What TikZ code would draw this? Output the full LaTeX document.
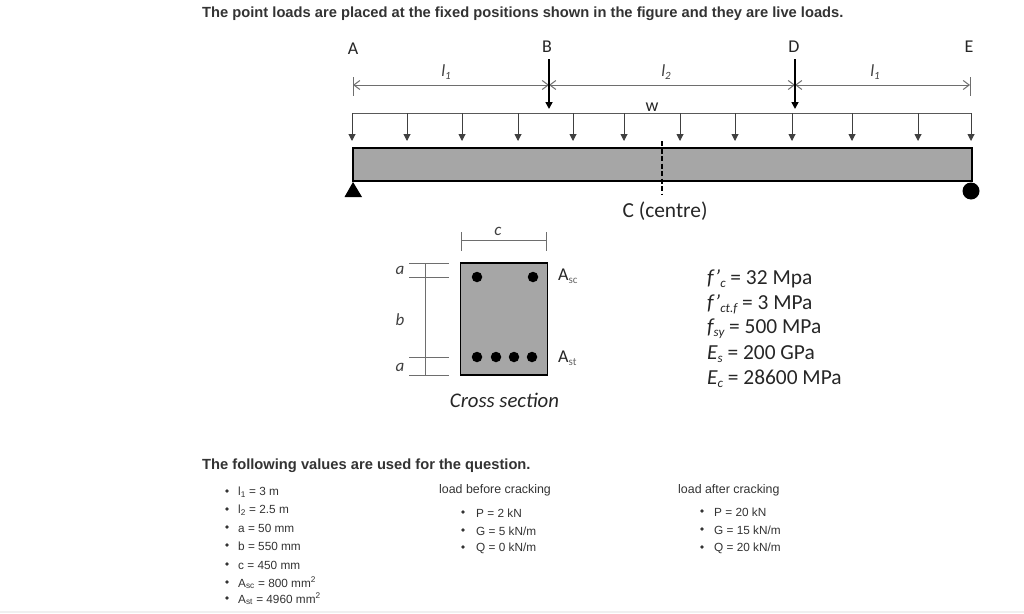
\documentclass[tikz,border=0pt]{standalone}
\usepackage{fontspec}
\setmainfont{Liberation Sans}
\newfontfamily\carl{Carlito}
\usetikzlibrary{arrows.meta}
\newcommand{\lowsub}[2][3]{\raisebox{-#1pt}{\fontsize{13}{13}\selectfont #2}}
\newcommand{\tinysub}[1]{\raisebox{-2.5pt}{\fontsize{11}{11}\selectfont #1}}
\definecolor{beamgray}{HTML}{A6A6A6}
\definecolor{webtext}{HTML}{333333}
\definecolor{dimgray}{HTML}{6E6E6E}
\tikzset{
  x=1pt,y=-1pt,
  heading/.style={anchor=west,inner sep=0pt,yshift=-1pt,font=\fontsize{14.7}{16}\selectfont\bfseries,text=webtext},
  listtext/.style={anchor=west,inner sep=0pt,yshift=-1pt,font=\fontsize{11.8}{13}\selectfont,text=webtext},
  listhead/.style={anchor=west,inner sep=0pt,yshift=-1pt,font=\fontsize{12.4}{14}\selectfont,text=webtext},
  bulletdot/.style={circle,fill=webtext,inner sep=0pt,minimum size=3.6pt},
  cal/.style={inner sep=0pt,yshift=-0.5pt,font=\carl\fontsize{18}{20}\selectfont,text=black!85},
  calit/.style={inner sep=0pt,font=\carl\itshape\fontsize{17}{19}\selectfont,text=black!75},
  prop/.style={anchor=west,inner sep=0pt,yshift=-1pt,font=\carl\fontsize{21.4}{24}\selectfont,text=black!85},
  dimline/.style={draw=dimgray,line width=1pt},
  dimarrow/.style={draw=dimgray,line width=1pt,{Straight Barb[length=6pt,width=9pt]}-{Straight Barb[length=6pt,width=9pt]}},
  loadarrow/.style={draw=black!75,line width=1pt,-{Triangle[length=7pt,width=7pt]}},
  pointload/.style={draw=black,line width=1.6pt,-{Triangle[length=7pt,width=7pt]}},
  solidgray/.style={draw=black,fill=beamgray,line width=1.6pt,inner sep=0pt},
  bar/.style={circle,fill=black,inner sep=0pt,minimum size=10.5pt},
}
\begin{document}
\begin{tikzpicture}
\useasboundingbox[fill=white] (0,0) rectangle (1024,613);
\fill[black!6] (0,611) rectangle (1024,613);

\node[heading] (title) at (202,12.5) {The point loads are placed at the fixed positions shown in the figure and they are live loads.};

% station labels
\node[cal] (lA) at (353,48) {A};
\node[cal] (lB) at (547,46) {B};
\node[cal] (lD) at (794,46) {D};
\node[cal] (lE) at (969,46) {E};

% beam
\node[solidgray,minimum width=619pt,minimum height=33pt] (beam) at (662.5,164.5) {};

% dimension line
\coordinate (dA) at (353,85); \coordinate (dAt) at (353,77); \coordinate (dAb) at (353,96);
\coordinate (dB) at (549,85); \coordinate (dD) at (795,85);
\coordinate (dE) at (970,85); \coordinate (dEt) at (970,77); \coordinate (dEb) at (970,96);
\draw[dimline] (dAt) -- (dAb);
\draw[dimline] (dEt) -- (dEb);
\draw[dimarrow] (dA) -- (dB);
\draw[dimarrow] (dB) -- (dD);
\draw[dimarrow] (dD) -- (dE);
\node[calit] (l1a) at (446,72) {l\tinysub{1}};
\node[calit] (l2) at (666,72) {l\tinysub{2}};
\node[calit] (l1b) at (875,72) {l\tinysub{1}};

% point loads
\coordinate (pBs) at (549,59); \coordinate (pBe) at (549,109);
\coordinate (pDs) at (795,59); \coordinate (pDe) at (795,109);
\draw[pointload] (pBs) -- (pBe);
\draw[pointload] (pDs) -- (pDe);

% UDL
\coordinate (wL) at (353,113); \coordinate (wR) at (971,113);
\draw[draw=black!65,line width=1pt] (wL) -- (wR);
\foreach \i/\xx in {1/352,2/407,3/462,4/518,5/573,6/624,7/680,8/735,9/792,10/852,11/918,12/971}{
  \coordinate (ws\i) at (\xx,113);
  \coordinate (we\i) at (\xx,141);
  \draw[loadarrow] (ws\i) -- (we\i);
}
\node[cal] (w) at (652,107) {w};

% centre mark
\coordinate (cT) at (662,141); \coordinate (cB) at (662,194);
\draw[draw=black,line width=1.6pt,dash pattern=on 5pt off 2.5pt] (cT) -- (cB);
\node[cal,font=\carl\fontsize{21.4}{24}\selectfont] (C) at (665,211) {C (centre)};

% supports
\fill[black] (353,182) -- (362,197) -- (344.5,197) -- cycle;
\node[circle,fill=black,inner sep=0pt,minimum size=17pt] (roller) at (971,191) {};

% cross section
\node[solidgray,minimum width=87pt,minimum height=112pt] (sec) at (504,319) {};
\node[bar] (b1) at (477,277) {};
\node[bar] (b2) at (533,277) {};
\node[bar] (b3) at (477,357) {};
\node[bar] (b4) at (496,357) {};
\node[bar] (b5) at (514,357) {};
\node[bar] (b6) at (532,357) {};
\coordinate (cL) at (461,240); \coordinate (cR) at (546,240);
\coordinate (cLt) at (461,232); \coordinate (cLb) at (461,251);
\coordinate (cRt) at (546,232); \coordinate (cRb) at (546,251);
\draw[dimline] (cL) -- (cR);
\draw[dimline] (cLt) -- (cLb);
\draw[dimline] (cRt) -- (cRb);
\node[calit] (lc) at (498,231) {c};
\foreach \n/\yy in {1/263,2/277,3/357,4/375}{
  \coordinate (tl\n) at (409,\yy);
  \coordinate (tr\n) at (449,\yy);
  \draw[dimline] (tl\n) -- (tr\n);
}
\coordinate (vT) at (425,263); \coordinate (vB) at (425,375);
\draw[dimline] (vT) -- (vB);
\node[calit] (la1) at (400,270) {a};
\node[calit] (lb) at (400,320) {b};
\node[calit] (la2) at (400,367) {a};
\node[cal,anchor=west] (asc) at (558,276) {A\tinysub{\textcolor{black!60}{sc}}};
\node[cal,anchor=west] (ast) at (558,358) {A\tinysub{\textcolor{black!60}{st}}};
\node[cal,font=\carl\itshape\fontsize{20.8}{23}\selectfont] (cs) at (504.5,400) {Cross section};

% properties
\node[prop] (p1) at (707,278) {\textit{f’\lowsub{c}} = 32 Mpa};
\node[prop] (p2) at (707,303) {\textit{f’\lowsub{ct.f}} = 3 MPa};
\node[prop] (p3) at (707,328) {\textit{f\lowsub{sy}} = 500 MPa};
\node[prop] (p4) at (707,353) {\textit{E\lowsub{s}} = 200 GPa};
\node[prop] (p5) at (707,378) {\textit{E\lowsub{c}} = 28600 MPa};

% values
\node[heading] (vals) at (202,465) {The following values are used for the question.};
\foreach \n/\yy/\tx in {
  1/491/{l\textsubscript{1} = 3 m},
  2/509/{l\textsubscript{2} = 2.5 m},
  3/527/{a = 50 mm},
  4/545/{b = 550 mm},
  5/564/{c = 450 mm},
  6/582/{A\textsubscript{sc} = 800 mm\textsuperscript{2}},
  7/598/{A\textsubscript{st} = 4960 mm\textsuperscript{2}}}{
  \node[bulletdot] (ba\n) at (227,\yy) {};
  \node[listtext] (ta\n) at (238,\yy) {\tx};
}
\node[listhead] (hb) at (439,489.5) {load before cracking};
\foreach \n/\yy/\tx in {1/512/{P = 2 kN},2/530/{G = 5 kN/m},3/547/{Q = 0 kN/m}}{
  \node[bulletdot] (bb\n) at (463,\yy) {};
  \node[listtext] (tb\n) at (476,\yy) {\tx};
}
\node[listhead] (hc) at (678,489.5) {load after cracking};
\foreach \n/\yy/\tx in {1/511/{P = 20 kN},2/529/{G = 15 kN/m},3/547/{Q = 20 kN/m}}{
  \node[bulletdot] (bc\n) at (702,\yy) {};
  \node[listtext] (tc\n) at (714,\yy) {\tx};
}
\end{tikzpicture}
\end{document}
